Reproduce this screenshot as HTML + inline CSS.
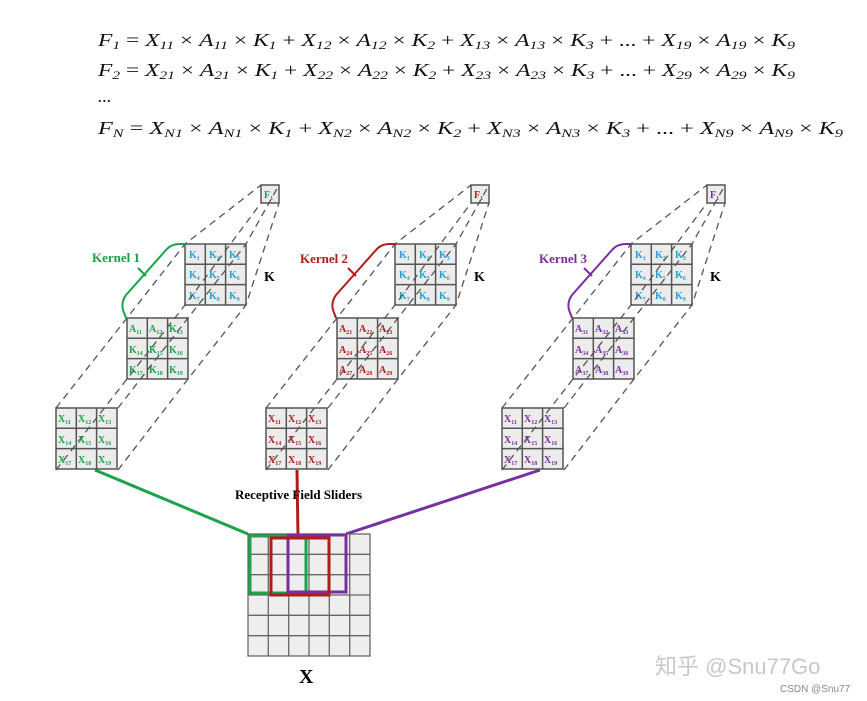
<!DOCTYPE html>
<html><head><meta charset="utf-8"><style>
html,body{margin:0;padding:0;background:#fff}
svg{display:block}
.f{font-family:"Liberation Serif",serif;font-style:italic;font-size:18px;fill:#111}
.c{font-family:"Liberation Serif",serif;font-weight:bold;font-size:10px}
.d{stroke:#555;stroke-width:1.3;stroke-dasharray:7,5;fill:none}
</style></head><body>
<svg width="867" height="701" viewBox="0 0 867 701" xmlns="http://www.w3.org/2000/svg">
<defs>
<g id="g3" fill="#ececec" stroke="#555" stroke-width="1.5"><rect x="0" y="0" width="61" height="61" fill="#ececec" stroke="#555"/><line x1="20.3" y1="0" x2="20.3" y2="61" stroke="#555"/><line x1="40.6" y1="0" x2="40.6" y2="61" stroke="#555"/><line x1="0" y1="20.3" x2="61" y2="20.3" stroke="#555"/><line x1="0" y1="40.6" x2="61" y2="40.6" stroke="#555"/></g>
<g id="dash">
<path stroke="#555" stroke-width="1.3" stroke-dasharray="7,5" fill="none" d="M56,408 L127,318 L185,244 L261,185 M118,408 L188,318 L246,244 L279,185 M56,470 L127,379 L185,305 L261,203 M118,470 L188,379 L246,305 L279,203"/>
</g>
</defs>
<text class="f" x="98" y="46" textLength="697" lengthAdjust="spacingAndGlyphs">F<tspan font-size="12" dy="3">1</tspan><tspan dy="-3" font-style="normal"> = </tspan>X<tspan font-size="12" dy="3">11</tspan><tspan dy="-3" font-style="normal"> × </tspan>A<tspan font-size="12" dy="3">11</tspan><tspan dy="-3" font-style="normal"> × </tspan>K<tspan font-size="12" dy="3">1</tspan><tspan dy="-3" font-style="normal"> + </tspan>X<tspan font-size="12" dy="3">12</tspan><tspan dy="-3" font-style="normal"> × </tspan>A<tspan font-size="12" dy="3">12</tspan><tspan dy="-3" font-style="normal"> × </tspan>K<tspan font-size="12" dy="3">2</tspan><tspan dy="-3" font-style="normal"> + </tspan>X<tspan font-size="12" dy="3">13</tspan><tspan dy="-3" font-style="normal"> × </tspan>A<tspan font-size="12" dy="3">13</tspan><tspan dy="-3" font-style="normal"> × </tspan>K<tspan font-size="12" dy="3">3</tspan><tspan dy="-3" font-style="normal"> + ... + </tspan>X<tspan font-size="12" dy="3">19</tspan><tspan dy="-3" font-style="normal"> × </tspan>A<tspan font-size="12" dy="3">19</tspan><tspan dy="-3" font-style="normal"> × </tspan>K<tspan font-size="12" dy="3">9</tspan></text>
<text class="f" x="98" y="76" textLength="697" lengthAdjust="spacingAndGlyphs">F<tspan font-size="12" dy="3">2</tspan><tspan dy="-3" font-style="normal"> = </tspan>X<tspan font-size="12" dy="3">21</tspan><tspan dy="-3" font-style="normal"> × </tspan>A<tspan font-size="12" dy="3">21</tspan><tspan dy="-3" font-style="normal"> × </tspan>K<tspan font-size="12" dy="3">1</tspan><tspan dy="-3" font-style="normal"> + </tspan>X<tspan font-size="12" dy="3">22</tspan><tspan dy="-3" font-style="normal"> × </tspan>A<tspan font-size="12" dy="3">22</tspan><tspan dy="-3" font-style="normal"> × </tspan>K<tspan font-size="12" dy="3">2</tspan><tspan dy="-3" font-style="normal"> + </tspan>X<tspan font-size="12" dy="3">23</tspan><tspan dy="-3" font-style="normal"> × </tspan>A<tspan font-size="12" dy="3">23</tspan><tspan dy="-3" font-style="normal"> × </tspan>K<tspan font-size="12" dy="3">3</tspan><tspan dy="-3" font-style="normal"> + ... + </tspan>X<tspan font-size="12" dy="3">29</tspan><tspan dy="-3" font-style="normal"> × </tspan>A<tspan font-size="12" dy="3">29</tspan><tspan dy="-3" font-style="normal"> × </tspan>K<tspan font-size="12" dy="3">9</tspan></text>
<text class="f" x="98" y="102" font-style="normal">...</text>
<text class="f" x="98" y="134" textLength="745" lengthAdjust="spacingAndGlyphs">F<tspan font-size="12" dy="3">N</tspan><tspan dy="-3" font-style="normal"> = </tspan>X<tspan font-size="12" dy="3">N1</tspan><tspan dy="-3" font-style="normal"> × </tspan>A<tspan font-size="12" dy="3">N1</tspan><tspan dy="-3" font-style="normal"> × </tspan>K<tspan font-size="12" dy="3">1</tspan><tspan dy="-3" font-style="normal"> + </tspan>X<tspan font-size="12" dy="3">N2</tspan><tspan dy="-3" font-style="normal"> × </tspan>A<tspan font-size="12" dy="3">N2</tspan><tspan dy="-3" font-style="normal"> × </tspan>K<tspan font-size="12" dy="3">2</tspan><tspan dy="-3" font-style="normal"> + </tspan>X<tspan font-size="12" dy="3">N3</tspan><tspan dy="-3" font-style="normal"> × </tspan>A<tspan font-size="12" dy="3">N3</tspan><tspan dy="-3" font-style="normal"> × </tspan>K<tspan font-size="12" dy="3">3</tspan><tspan dy="-3" font-style="normal"> + ... + </tspan>X<tspan font-size="12" dy="3">N9</tspan><tspan dy="-3" font-style="normal"> × </tspan>A<tspan font-size="12" dy="3">N9</tspan><tspan dy="-3" font-style="normal"> × </tspan>K<tspan font-size="12" dy="3">9</tspan></text>

<path d="M95,470 L248,534" stroke="#1aa34a" stroke-width="3" fill="none"/>
<path d="M297,470 L298,537" stroke="#b01c1c" stroke-width="3" fill="none"/>
<path d="M540,470 L346,534" stroke="#7a2fa0" stroke-width="3" fill="none"/>

<g>
<g><rect x="261" y="185" width="18" height="18" fill="#ececec" stroke="#555" stroke-width="1.5"/><use href="#g3" x="185" y="244"/><use href="#g3" x="127" y="318"/><use href="#g3" x="56" y="408"/></g>
<g transform="translate(210,0)"><rect x="261" y="185" width="18" height="18" fill="#ececec" stroke="#555" stroke-width="1.5"/><use href="#g3" x="185" y="244"/><use href="#g3" x="127" y="318"/><use href="#g3" x="56" y="408"/></g>
<g transform="translate(446,0)"><rect x="261" y="185" width="18" height="18" fill="#ececec" stroke="#555" stroke-width="1.5"/><use href="#g3" x="185" y="244"/><use href="#g3" x="127" y="318"/><use href="#g3" x="56" y="408"/></g>
</g>

<g class="c">
<g fill="#1aa34a"><text x="264" y="198">F<tspan font-size="6" dy="2">1</tspan></text></g>
<g fill="#2a9fd6">
<text x="189" y="258">K<tspan font-size="6" dy="2">1</tspan></text><text x="209" y="258">K<tspan font-size="6" dy="2">2</tspan></text><text x="229" y="258">K<tspan font-size="6" dy="2">3</tspan></text>
<text x="189" y="278">K<tspan font-size="6" dy="2">4</tspan></text><text x="209" y="278">K<tspan font-size="6" dy="2">5</tspan></text><text x="229" y="278">K<tspan font-size="6" dy="2">6</tspan></text>
<text x="189" y="299">K<tspan font-size="6" dy="2">7</tspan></text><text x="209" y="299">K<tspan font-size="6" dy="2">8</tspan></text><text x="229" y="299">K<tspan font-size="6" dy="2">9</tspan></text>
</g>
<g fill="#1aa34a">
<text x="129" y="332">A<tspan font-size="6" dy="2">11</tspan></text><text x="149" y="332">A<tspan font-size="6" dy="2">12</tspan></text><text x="169" y="332">K<tspan font-size="6" dy="2">13</tspan></text>
<text x="129" y="353">K<tspan font-size="6" dy="2">14</tspan></text><text x="149" y="353">K<tspan font-size="6" dy="2">15</tspan></text><text x="169" y="353">K<tspan font-size="6" dy="2">16</tspan></text>
<text x="129" y="373">K<tspan font-size="6" dy="2">17</tspan></text><text x="149" y="373">K<tspan font-size="6" dy="2">18</tspan></text><text x="169" y="373">K<tspan font-size="6" dy="2">19</tspan></text>
<text x="58" y="422">X<tspan font-size="6" dy="2">11</tspan></text><text x="78" y="422">X<tspan font-size="6" dy="2">12</tspan></text><text x="98" y="422">X<tspan font-size="6" dy="2">13</tspan></text>
<text x="58" y="443">X<tspan font-size="6" dy="2">14</tspan></text><text x="78" y="443">X<tspan font-size="6" dy="2">15</tspan></text><text x="98" y="443">X<tspan font-size="6" dy="2">16</tspan></text>
<text x="58" y="463">X<tspan font-size="6" dy="2">17</tspan></text><text x="78" y="463">X<tspan font-size="6" dy="2">18</tspan></text><text x="98" y="463">X<tspan font-size="6" dy="2">19</tspan></text>
</g>
</g>
<g class="c" transform="translate(210,0)">
<g fill="#b01c1c"><text x="264" y="198">F<tspan font-size="6" dy="2">1</tspan></text></g>
<g fill="#2a9fd6">
<text x="189" y="258">K<tspan font-size="6" dy="2">1</tspan></text><text x="209" y="258">K<tspan font-size="6" dy="2">2</tspan></text><text x="229" y="258">K<tspan font-size="6" dy="2">3</tspan></text>
<text x="189" y="278">K<tspan font-size="6" dy="2">4</tspan></text><text x="209" y="278">K<tspan font-size="6" dy="2">5</tspan></text><text x="229" y="278">K<tspan font-size="6" dy="2">6</tspan></text>
<text x="189" y="299">K<tspan font-size="6" dy="2">7</tspan></text><text x="209" y="299">K<tspan font-size="6" dy="2">8</tspan></text><text x="229" y="299">K<tspan font-size="6" dy="2">9</tspan></text>
</g>
<g fill="#b01c1c">
<text x="129" y="332">A<tspan font-size="6" dy="2">21</tspan></text><text x="149" y="332">A<tspan font-size="6" dy="2">22</tspan></text><text x="169" y="332">A<tspan font-size="6" dy="2">23</tspan></text>
<text x="129" y="353">A<tspan font-size="6" dy="2">24</tspan></text><text x="149" y="353">A<tspan font-size="6" dy="2">25</tspan></text><text x="169" y="353">A<tspan font-size="6" dy="2">26</tspan></text>
<text x="129" y="373">A<tspan font-size="6" dy="2">27</tspan></text><text x="149" y="373">A<tspan font-size="6" dy="2">28</tspan></text><text x="169" y="373">A<tspan font-size="6" dy="2">29</tspan></text>
<text x="58" y="422">X<tspan font-size="6" dy="2">11</tspan></text><text x="78" y="422">X<tspan font-size="6" dy="2">12</tspan></text><text x="98" y="422">X<tspan font-size="6" dy="2">13</tspan></text>
<text x="58" y="443">X<tspan font-size="6" dy="2">14</tspan></text><text x="78" y="443">X<tspan font-size="6" dy="2">15</tspan></text><text x="98" y="443">X<tspan font-size="6" dy="2">16</tspan></text>
<text x="58" y="463">X<tspan font-size="6" dy="2">17</tspan></text><text x="78" y="463">X<tspan font-size="6" dy="2">18</tspan></text><text x="98" y="463">X<tspan font-size="6" dy="2">19</tspan></text>
</g>
</g>
<g class="c" transform="translate(446,0)">
<g fill="#7a2fa0"><text x="264" y="198">F<tspan font-size="6" dy="2">1</tspan></text></g>
<g fill="#2a9fd6">
<text x="189" y="258">K<tspan font-size="6" dy="2">1</tspan></text><text x="209" y="258">K<tspan font-size="6" dy="2">2</tspan></text><text x="229" y="258">K<tspan font-size="6" dy="2">3</tspan></text>
<text x="189" y="278">K<tspan font-size="6" dy="2">4</tspan></text><text x="209" y="278">K<tspan font-size="6" dy="2">5</tspan></text><text x="229" y="278">K<tspan font-size="6" dy="2">6</tspan></text>
<text x="189" y="299">K<tspan font-size="6" dy="2">7</tspan></text><text x="209" y="299">K<tspan font-size="6" dy="2">8</tspan></text><text x="229" y="299">K<tspan font-size="6" dy="2">9</tspan></text>
</g>
<g fill="#7a2fa0">
<text x="129" y="332">A<tspan font-size="6" dy="2">31</tspan></text><text x="149" y="332">A<tspan font-size="6" dy="2">32</tspan></text><text x="169" y="332">A<tspan font-size="6" dy="2">33</tspan></text>
<text x="129" y="353">A<tspan font-size="6" dy="2">34</tspan></text><text x="149" y="353">A<tspan font-size="6" dy="2">35</tspan></text><text x="169" y="353">A<tspan font-size="6" dy="2">36</tspan></text>
<text x="129" y="373">A<tspan font-size="6" dy="2">37</tspan></text><text x="149" y="373">A<tspan font-size="6" dy="2">38</tspan></text><text x="169" y="373">A<tspan font-size="6" dy="2">39</tspan></text>
<text x="58" y="422">X<tspan font-size="6" dy="2">11</tspan></text><text x="78" y="422">X<tspan font-size="6" dy="2">12</tspan></text><text x="98" y="422">X<tspan font-size="6" dy="2">13</tspan></text>
<text x="58" y="443">X<tspan font-size="6" dy="2">14</tspan></text><text x="78" y="443">X<tspan font-size="6" dy="2">15</tspan></text><text x="98" y="443">X<tspan font-size="6" dy="2">16</tspan></text>
<text x="58" y="463">X<tspan font-size="6" dy="2">17</tspan></text><text x="78" y="463">X<tspan font-size="6" dy="2">18</tspan></text><text x="98" y="463">X<tspan font-size="6" dy="2">19</tspan></text>
</g>
</g>

<use href="#dash"/>
<use href="#dash" x="210"/>
<use href="#dash" x="446"/>

<g font-family="Liberation Serif,serif" font-weight="bold">
<text x="264" y="281" font-size="14">K</text>
<text x="474" y="281" font-size="14">K</text>
<text x="710" y="281" font-size="14">K</text>
<text x="92" y="262" font-size="13" fill="#1aa34a">Kernel 1</text>
<text x="300" y="263" font-size="13" fill="#b01c1c">Kernel 2</text>
<text x="539" y="263" font-size="13" fill="#7a2fa0">Kernel 3</text>
</g>
<path d="M126,318 L123,310 Q121,302 126,295 L166,250 Q171,244 180,244 L186,244 M146,276 L138,268" stroke="#1aa34a" stroke-width="2" fill="none"/>
<path transform="translate(210,0)" d="M126,318 L123,310 Q121,302 126,295 L166,250 Q171,244 180,244 L186,244 M146,276 L138,268" stroke="#b01c1c" stroke-width="2" fill="none"/>
<path transform="translate(446,0)" d="M126,318 L123,310 Q121,302 126,295 L166,250 Q171,244 180,244 L186,244 M146,276 L138,268" stroke="#7a2fa0" stroke-width="2" fill="none"/>

<text x="235" y="499" font-family="Liberation Serif,serif" font-weight="bold" font-size="13">Receptive Field Sliders</text>

<g stroke="#666" stroke-width="1.3">
<rect x="248" y="534" width="122" height="122" fill="#eeeeee"/>
<line x1="268.3" y1="534" x2="268.3" y2="656"/><line x1="288.7" y1="534" x2="288.7" y2="656"/><line x1="309" y1="534" x2="309" y2="656"/><line x1="329.3" y1="534" x2="329.3" y2="656"/><line x1="349.7" y1="534" x2="349.7" y2="656"/>
<line x1="248" y1="554.3" x2="370" y2="554.3"/><line x1="248" y1="574.7" x2="370" y2="574.7"/><line x1="248" y1="595" x2="370" y2="595"/><line x1="248" y1="615.3" x2="370" y2="615.3"/><line x1="248" y1="635.7" x2="370" y2="635.7"/>
</g>
<rect x="250" y="536" width="56" height="57" fill="none" stroke="#1aa34a" stroke-width="3"/>
<rect x="288" y="535" width="58" height="57" fill="none" stroke="#7a2fa0" stroke-width="3"/>
<rect x="271" y="538" width="58" height="57" fill="none" stroke="#b01c1c" stroke-width="3"/>
<text x="299" y="683" font-family="Liberation Serif,serif" font-weight="bold" font-size="20">X</text>

<text x="655" y="674" font-family="Liberation Sans,Noto Sans CJK SC,sans-serif" font-size="22" fill="#c8c8c8">知乎 @Snu77Go</text>
<text x="780" y="692" font-family="Liberation Sans,Noto Sans CJK SC,sans-serif" font-size="10" fill="#888">CSDN @Snu77</text>
</svg>
</body></html>
